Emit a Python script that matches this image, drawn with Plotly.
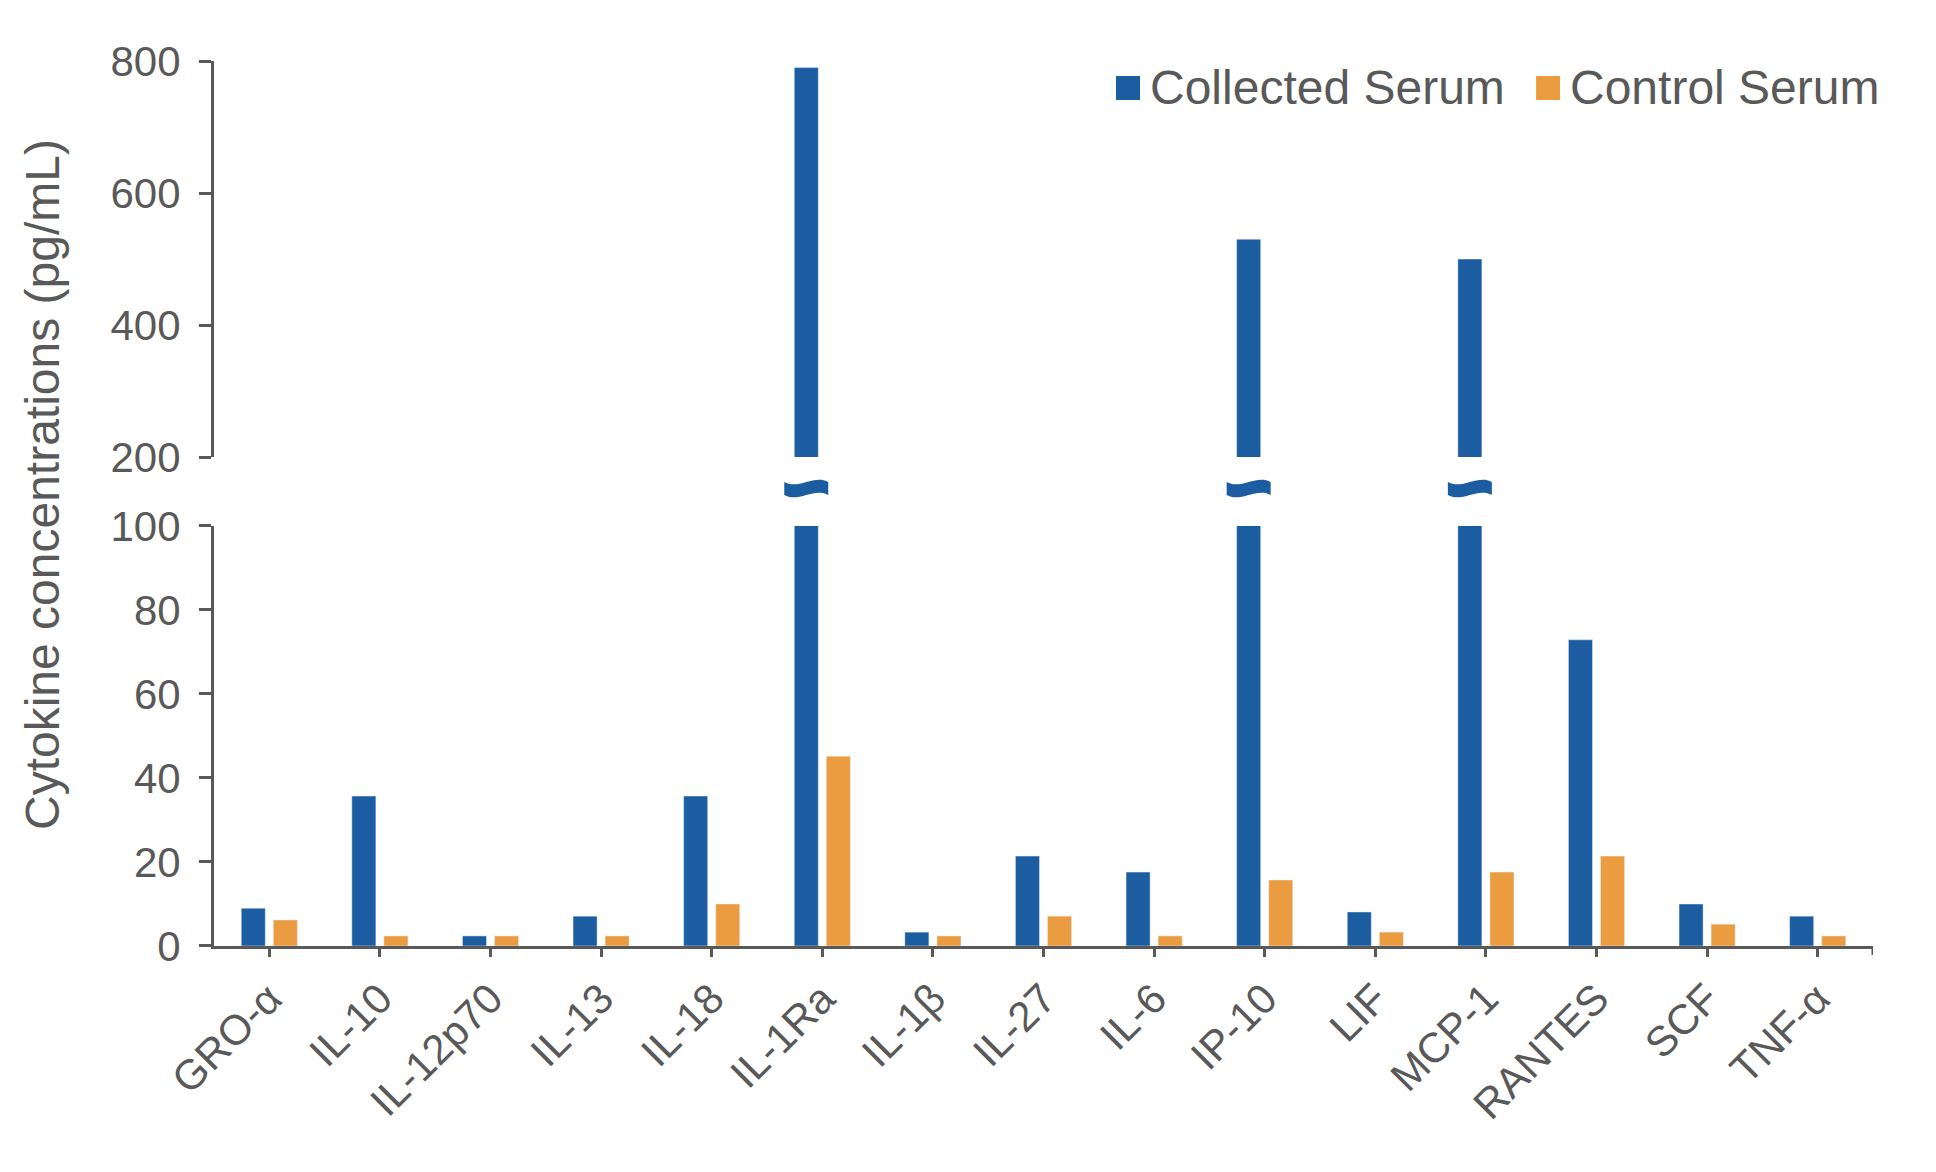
import plotly.graph_objects as go

# cytokine panel
categories = ["GRO-α", "IL-10", "IL-12p70", "IL-13", "IL-18", "IL-1Ra", "IL-1β",
              "IL-27", "IL-6", "IP-10", "LIF", "MCP-1", "RANTES", "SCF", "TNF-α"]
collected_serum = [9.0, 35.7, 2.4, 7.1, 35.7, 790, 3.3, 21.4, 17.6, 530, 8.1, 500, 72.9, 10.0, 7.1]
control_serum = [6.2, 2.4, 2.4, 2.4, 10.0, 45.2, 2.4, 7.1, 2.4, 15.7, 3.3, 17.6, 21.4, 5.2, 2.4]

low_ticks = [0, 20, 40, 60, 80, 100]
high_ticks = [200, 400, 600, 800]

BLUE = "#1B5DA0"
ORANGE = "#EC9C40"
GREY = "#595959"
FONT = "Liberation Sans, Arial, sans-serif"

BARGAP = 0.42
lower_top = 0.4746
upper_bottom = 0.5525

fig = go.Figure()

# same bars on both halves of the broken axis, each half clips its own range
for yax in ["y", "y2"]:
    fig.add_trace(go.Bar(x=categories, y=collected_serum, marker_color=BLUE,
                         name="Collected Serum", yaxis=yax, showlegend=False))
    fig.add_trace(go.Bar(x=categories, y=control_serum, marker_color=ORANGE,
                         name="Control Serum", yaxis=yax, showlegend=False))

axis_style = dict(showline=True, linecolor=GREY, linewidth=3, ticks="outside",
                  ticklen=12, tickwidth=3, tickcolor=GREY, showgrid=False,
                  zeroline=False, tickfont=dict(size=42, color=GREY, family=FONT))

# page body adds 8px on top/left, so margins are shifted by that
fig.update_layout(
    width=1936, height=1172,
    margin=dict(l=206, r=71, t=53, b=234),
    paper_bgcolor="white", plot_bgcolor="white",
    barmode="group", bargap=BARGAP, bargroupgap=0.25,
    showlegend=False,
    font=dict(family=FONT, color=GREY),
    xaxis=dict(range=[-0.5, len(categories) - 0.5], tickangle=-45,
               showline=True, linecolor=GREY, linewidth=3, ticks="outside",
               ticklen=8, tickwidth=3, tickcolor=GREY, showgrid=False,
               tickfont=dict(size=42, color=GREY, family=FONT), anchor="y"),
    yaxis=dict(domain=[0, lower_top], range=[0, 100], tickvals=low_ticks,
               anchor="x", ticklabelstandoff=10, **axis_style),
    yaxis2=dict(domain=[upper_bottom, 1], range=[200, 800], tickvals=high_ticks,
                anchor="x", ticklabelstandoff=10, **axis_style),
)

# right end tick of the category axis
fig.add_shape(type="line", xref="x", yref="paper", x0=len(categories) - 0.5,
              x1=len(categories) - 0.5, ysizemode="pixel", yanchor=0, y0=0, y1=-9,
              line=dict(color=GREY, width=3))

# break marks on bars that run past the lower panel
blue_offset = (1 - BARGAP) / 4
wave = "M -22,6 C -8,-2 8,14 22,6 L 22,-7 C 8,1 -8,-15 -22,-7 Z"
for i, v in enumerate(collected_serum):
    if v > low_ticks[-1]:
        fig.add_shape(type="path", xref="x", yref="paper",
                      xsizemode="pixel", ysizemode="pixel",
                      xanchor=i - blue_offset, yanchor=0.5175, path=wave,
                      fillcolor=BLUE, line=dict(width=0))

# legend built by hand so the swatches match the text size
legend_items = [("Collected Serum", BLUE, 0.5437), ("Control Serum", ORANGE, 0.7969)]
for label, color, x0 in legend_items:
    fig.add_shape(type="rect", xref="paper", yref="paper",
                  xsizemode="pixel", ysizemode="pixel", xanchor=x0, yanchor=0.9695,
                  x0=0, x1=24, y0=-12, y1=12, fillcolor=color, line=dict(width=0))
    fig.add_annotation(text=label, xref="paper", yref="paper", x=x0 + 0.019, y=0.9695,
                       xanchor="left", yanchor="middle", showarrow=False,
                       font=dict(size=48, color=GREY, family=FONT))

fig.add_annotation(text="Cytokine concentrations (pg/mL)", textangle=-90,
                   xref="paper", yref="paper", x=-0.103, y=0.521,
                   xanchor="center", yanchor="middle", showarrow=False,
                   font=dict(size=48, color=GREY, family=FONT))

fig.write_html("out.html")
